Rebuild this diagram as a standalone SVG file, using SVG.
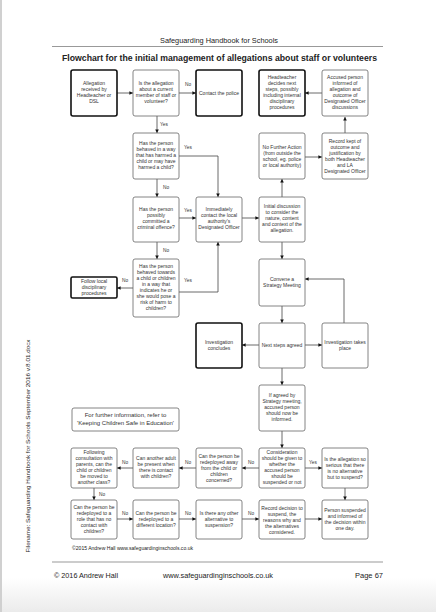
<svg xmlns="http://www.w3.org/2000/svg" width="436" height="612" viewBox="0 0 436 612">
<defs>
<marker id="ah" viewBox="0 0 6 6" refX="6" refY="3" markerWidth="3.6" markerHeight="3.6" markerUnits="userSpaceOnUse" orient="auto"><path d="M0,0 L6,3 L0,6 z" fill="#111"/></marker>
<linearGradient id="bg" x1="0" y1="0" x2="0" y2="1"><stop offset="0" stop-color="#ffffff"/><stop offset="1" stop-color="#ebebeb"/></linearGradient>
</defs>
<style>
.b{fill:#fff;stroke:#666;stroke-width:0.8}
.k{fill:#fff;stroke:#111;stroke-width:1.6}
.t{font-family:"Liberation Sans",Arial,sans-serif;font-size:5px;fill:#333;text-anchor:middle}
.l{font-family:"Liberation Sans",Arial,sans-serif;font-size:4.8px;fill:#333;text-anchor:middle}
.c{fill:none;stroke:#444;stroke-width:0.8;marker-end:url(#ah)}
.p{font-family:"Liberation Sans",Arial,sans-serif;fill:#222}
</style>
<rect width="436" height="612" fill="#fff"/>
<rect x="0" y="578" width="436" height="34" fill="url(#bg)"/>
<rect x="0" y="0" width="2" height="612" fill="#d0d0d0"/>
<g id="page">
<text class="p" x="219" y="42.5" font-size="7.4" text-anchor="middle" textLength="118" lengthAdjust="spacingAndGlyphs">Safeguarding Handbook for Schools</text>
<line x1="52" y1="46.5" x2="383" y2="46.5" stroke="#999" stroke-width="1"/>
<text class="p" x="219.5" y="60.5" font-size="8.6" font-weight="bold" text-anchor="middle" fill="#111" textLength="315" lengthAdjust="spacingAndGlyphs">Flowchart for the initial management of allegations about staff or volunteers</text>
<text class="p" transform="translate(30,446) rotate(-90)" font-size="6.2" text-anchor="middle" textLength="213" lengthAdjust="spacingAndGlyphs">Filename: Safeguarding Handbook for Schools September 2016 v.8.01.docx</text>
<text class="p" x="72" y="549.5" font-size="4.8" fill="#333" textLength="121" lengthAdjust="spacingAndGlyphs">©2015 Andrew Hall www.safeguardinginschools.co.uk</text>
<line x1="52" y1="562" x2="383" y2="562" stroke="#999" stroke-width="1"/>
<text class="p" x="54" y="577.5" font-size="7" textLength="64" lengthAdjust="spacingAndGlyphs">© 2016 Andrew Hall</text>
<text class="p" x="163" y="577.5" font-size="7" textLength="110" lengthAdjust="spacingAndGlyphs">www.safeguardinginschools.co.uk</text>
<text class="p" x="355" y="577.5" font-size="7" textLength="28" lengthAdjust="spacingAndGlyphs">Page 67</text>
</g>
<g id="connectors">
<path class="c" d="M117,93 H133"/>
<path class="c" d="M179,93 H196"/>
<path class="c" d="M157,116 V133"/>
<path class="c" d="M179,156 H218 V197"/>
<path class="c" d="M157,179 V197"/>
<path class="c" d="M179,218 H196"/>
<path class="c" d="M157,242 V259"/>
<path class="c" d="M133,288 H117"/>
<path class="c" d="M179,292 H218 V242"/>
<path class="c" d="M242,218 H259"/>
<path class="c" d="M282,197 V179"/>
<path class="c" d="M305,157 H322"/>
<path class="c" d="M345,133 V117"/>
<path class="c" d="M322,93 H305"/>
<path class="c" d="M282,242 V259"/>
<path class="c" d="M282,306 V323"/>
<path class="c" d="M259,345 H242"/>
<path class="c" d="M305,345 H322"/>
<path class="c" d="M344,323 V279 H305"/>
<path class="c" d="M282,368 V385"/>
<path class="c" d="M282,431 V448"/>
<path class="c" d="M259,468 H242"/>
<path class="c" d="M305,468 H322"/>
<path class="c" d="M196,468 H179"/>
<path class="c" d="M133,468 H117"/>
<path class="c" d="M94,488 V500"/>
<path class="c" d="M117,519 H133"/>
<path class="c" d="M179,519 H196"/>
<path class="c" d="M242,519 H259"/>
<path class="c" d="M305,519 H322"/>
<path class="c" d="M345,488 V500"/>
<text class="l" x="188" y="85.5">No</text>
<text class="l" x="164" y="125.5">Yes</text>
<text class="l" x="188" y="148.5">Yes</text>
<text class="l" x="166" y="188.5">No</text>
<text class="l" x="188" y="211.5">Yes</text>
<text class="l" x="166" y="251.5">No</text>
<text class="l" x="125" y="281.5">No</text>
<text class="l" x="188" y="281.5">Yes</text>
<text class="l" x="251" y="463.5">No</text>
<text class="l" x="313" y="463.5">Yes</text>
<text class="l" x="188" y="463.5">No</text>
<text class="l" x="125" y="463.5">No</text>
<text class="l" x="102" y="495.5">No</text>
<text class="l" x="125" y="514.5">No</text>
<text class="l" x="188" y="514.5">No</text>
<text class="l" x="251" y="514.5">No</text>
</g>
<g id="n1"><rect class="k" x="71" y="70" width="46" height="46" rx="2"/><text class="t"><tspan x="94" y="85.2">Allegation</tspan><tspan x="94" y="91.2">received by</tspan><tspan x="94" y="97.2">Headteacher or</tspan><tspan x="94" y="103.2">DSL</tspan></text></g>
<g id="n2"><rect class="b" x="133" y="70" width="46" height="46" rx="2"/><text class="t"><tspan x="156" y="85.2">Is the allegation</tspan><tspan x="156" y="91.2">about a current</tspan><tspan x="156" y="97.2">member of staff or</tspan><tspan x="156" y="103.2">volunteer?</tspan></text></g>
<g id="n3"><rect class="k" x="196" y="70" width="46" height="46" rx="2"/><text class="t"><tspan x="219" y="94.7">Contact the police</tspan></text></g>
<g id="n4"><rect class="k" x="259" y="70" width="46" height="46" rx="2"/><text class="t"><tspan x="282" y="79.2">Headteacher</tspan><tspan x="282" y="85.2">decides next</tspan><tspan x="282" y="91.2">steps, possibly</tspan><tspan x="282" y="97.2">including internal</tspan><tspan x="282" y="103.2">disciplinary</tspan><tspan x="282" y="109.2">procedures</tspan></text></g>
<g id="n5"><rect class="b" x="322" y="70" width="46" height="46" rx="2"/><text class="t"><tspan x="345" y="79.2">Accused person</tspan><tspan x="345" y="85.2">informed of</tspan><tspan x="345" y="91.2">allegation and</tspan><tspan x="345" y="97.2">outcome of</tspan><tspan x="345" y="103.2">Designated Officer</tspan><tspan x="345" y="109.2">discussions</tspan></text></g>
<g id="n6"><rect class="b" x="133" y="133" width="46" height="46" rx="2"/><text class="t"><tspan x="156" y="145.2">Has the person</tspan><tspan x="156" y="151.2">behaved in a way</tspan><tspan x="156" y="157.2">that has harmed a</tspan><tspan x="156" y="163.2">child or may have</tspan><tspan x="156" y="169.2">harmed a child?</tspan></text></g>
<g id="n7"><rect class="b" x="259" y="133" width="46" height="46" rx="2"/><text class="t"><tspan x="282" y="148.7">No Further Action</tspan><tspan x="282" y="154.7">(from outside the</tspan><tspan x="282" y="160.7">school, eg. police</tspan><tspan x="282" y="166.7">or local authority)</tspan></text></g>
<g id="n8"><rect class="b" x="322" y="133" width="46" height="46" rx="2"/><text class="t"><tspan x="345" y="142.7">Record kept of</tspan><tspan x="345" y="148.7">outcome and</tspan><tspan x="345" y="154.7">justification by</tspan><tspan x="345" y="160.7">both Headteacher</tspan><tspan x="345" y="166.7">and LA</tspan><tspan x="345" y="172.7">Designated Officer</tspan></text></g>
<g id="n9"><rect class="b" x="133" y="197" width="46" height="45" rx="2"/><text class="t"><tspan x="156" y="211.2">Has the person</tspan><tspan x="156" y="217.2">possibly</tspan><tspan x="156" y="223.2">committed a</tspan><tspan x="156" y="229.2">criminal offence?</tspan></text></g>
<g id="n10"><rect class="b" x="196" y="197" width="46" height="45" rx="2"/><text class="t"><tspan x="219" y="211.2">Immediately</tspan><tspan x="219" y="217.2">contact the local</tspan><tspan x="219" y="223.2">authority's</tspan><tspan x="219" y="229.2">Designated Officer</tspan></text></g>
<g id="n11"><rect class="b" x="259" y="197" width="46" height="45" rx="2"/><text class="t"><tspan x="282" y="208.2">Initial discussion</tspan><tspan x="282" y="214.2">to consider the</tspan><tspan x="282" y="220.2">nature, content</tspan><tspan x="282" y="226.2">and context of the</tspan><tspan x="282" y="232.2">allegation.</tspan></text></g>
<g id="n12"><rect class="b" x="133" y="259" width="46" height="58" rx="2"/><text class="t"><tspan x="156" y="267.7">Has the person</tspan><tspan x="156" y="273.7">behaved towards</tspan><tspan x="156" y="279.7">a child or children</tspan><tspan x="156" y="285.7">in a way that</tspan><tspan x="156" y="291.7">indicates he or</tspan><tspan x="156" y="297.7">she would pose a</tspan><tspan x="156" y="303.7">risk of harm to</tspan><tspan x="156" y="309.7">children?</tspan></text></g>
<g id="n13"><rect class="k" x="71" y="277" width="46" height="21" rx="1.5"/><text class="t"><tspan x="94" y="282.7">Follow local</tspan><tspan x="94" y="288.7">disciplinary</tspan><tspan x="94" y="294.7">procedures</tspan></text></g>
<g id="n14"><rect class="b" x="259" y="259" width="46" height="47" rx="2"/><text class="t"><tspan x="282" y="281.3">Convene a</tspan><tspan x="282" y="287.3">Strategy Meeting</tspan></text></g>
<g id="n15"><rect class="k" x="196" y="323" width="46" height="45" rx="2"/><text class="t"><tspan x="219" y="344">Investigation</tspan><tspan x="219" y="350">concludes</tspan></text></g>
<g id="n16"><rect class="b" x="259" y="323" width="46" height="45" rx="2"/><text class="t"><tspan x="282" y="347">Next steps agreed</tspan></text></g>
<g id="n17"><rect class="b" x="322" y="323" width="46" height="45" rx="2"/><text class="t"><tspan x="345" y="344">Investigation takes</tspan><tspan x="345" y="350">place</tspan></text></g>
<g id="n18"><rect class="b" x="259" y="385" width="46" height="46" rx="2"/><text class="t"><tspan x="282" y="396.7">If agreed by</tspan><tspan x="282" y="402.7">Strategy meeting,</tspan><tspan x="282" y="408.7">accused person</tspan><tspan x="282" y="414.7">should now be</tspan><tspan x="282" y="420.7">informed.</tspan></text></g>
<g id="n19"><rect class="b" x="72" y="408" width="107" height="23" rx="2"/><text class="t" style="font-size:6px"><tspan x="125.5" y="417.2">For further information, refer to</tspan><tspan x="125.5" y="424.8">'Keeping Children Safe in Education'</tspan></text></g>
<g id="n20"><rect class="b" x="71" y="448" width="46" height="40" rx="2"/><text class="t"><tspan x="94" y="454.4">Following</tspan><tspan x="94" y="460.4">consultation with</tspan><tspan x="94" y="466.4">parents, can the</tspan><tspan x="94" y="472.4">child or children</tspan><tspan x="94" y="478.4">be moved to</tspan><tspan x="94" y="484.4">another class?</tspan></text></g>
<g id="n21"><rect class="b" x="133" y="448" width="46" height="40" rx="2"/><text class="t"><tspan x="156" y="460.2">Can another adult</tspan><tspan x="156" y="466.2">be present when</tspan><tspan x="156" y="472.2">there is contact</tspan><tspan x="156" y="478.2">with children?</tspan></text></g>
<g id="n22"><rect class="b" x="196" y="448" width="46" height="40" rx="2"/><text class="t"><tspan x="219" y="457.9">Can the person be</tspan><tspan x="219" y="463.9">redeployed away</tspan><tspan x="219" y="469.9">from the child or</tspan><tspan x="219" y="475.9">children</tspan><tspan x="219" y="481.9">concerned?</tspan></text></g>
<g id="n23"><rect class="b" x="259" y="448" width="46" height="40" rx="2"/><text class="t"><tspan x="282" y="454.4">Consideration</tspan><tspan x="282" y="460.4">should be given to</tspan><tspan x="282" y="466.4">whether the</tspan><tspan x="282" y="472.4">accused person</tspan><tspan x="282" y="478.4">should be</tspan><tspan x="282" y="484.4">suspended or not</tspan></text></g>
<g id="n24"><rect class="b" x="322" y="448" width="46" height="40" rx="2"/><text class="t"><tspan x="345" y="460.5">Is the allegation so</tspan><tspan x="345" y="466.5">serious that there</tspan><tspan x="345" y="472.5">is no alternative</tspan><tspan x="345" y="478.5">but to suspend?</tspan></text></g>
<g id="n25"><rect class="b" x="71" y="500" width="46" height="39" rx="2"/><text class="t"><tspan x="94" y="508.9">Can the person be</tspan><tspan x="94" y="514.9">redeployed to a</tspan><tspan x="94" y="520.9">role that has no</tspan><tspan x="94" y="526.9">contact with</tspan><tspan x="94" y="532.9">children?</tspan></text></g>
<g id="n26"><rect class="b" x="133" y="500" width="46" height="39" rx="2"/><text class="t"><tspan x="156" y="515.3">Can the person be</tspan><tspan x="156" y="521.3">redeployed to a</tspan><tspan x="156" y="527.3">different location?</tspan></text></g>
<g id="n27"><rect class="b" x="196" y="500" width="46" height="39" rx="2"/><text class="t"><tspan x="219" y="515.3">Is there any other</tspan><tspan x="219" y="521.3">alternative to</tspan><tspan x="219" y="527.3">suspension?</tspan></text></g>
<g id="n28"><rect class="b" x="259" y="500" width="46" height="39" rx="2"/><text class="t"><tspan x="282" y="509.7">Record decision to</tspan><tspan x="282" y="515.7">suspend, the</tspan><tspan x="282" y="521.7">reasons why and</tspan><tspan x="282" y="527.7">the alternatives</tspan><tspan x="282" y="533.7">considered.</tspan></text></g>
<g id="n29"><rect class="b" x="322" y="500" width="46" height="39" rx="2"/><text class="t"><tspan x="345" y="512.2">Person suspended</tspan><tspan x="345" y="518.2">and informed of</tspan><tspan x="345" y="524.2">the decision within</tspan><tspan x="345" y="530.2">one day.</tspan></text></g>
</svg>
